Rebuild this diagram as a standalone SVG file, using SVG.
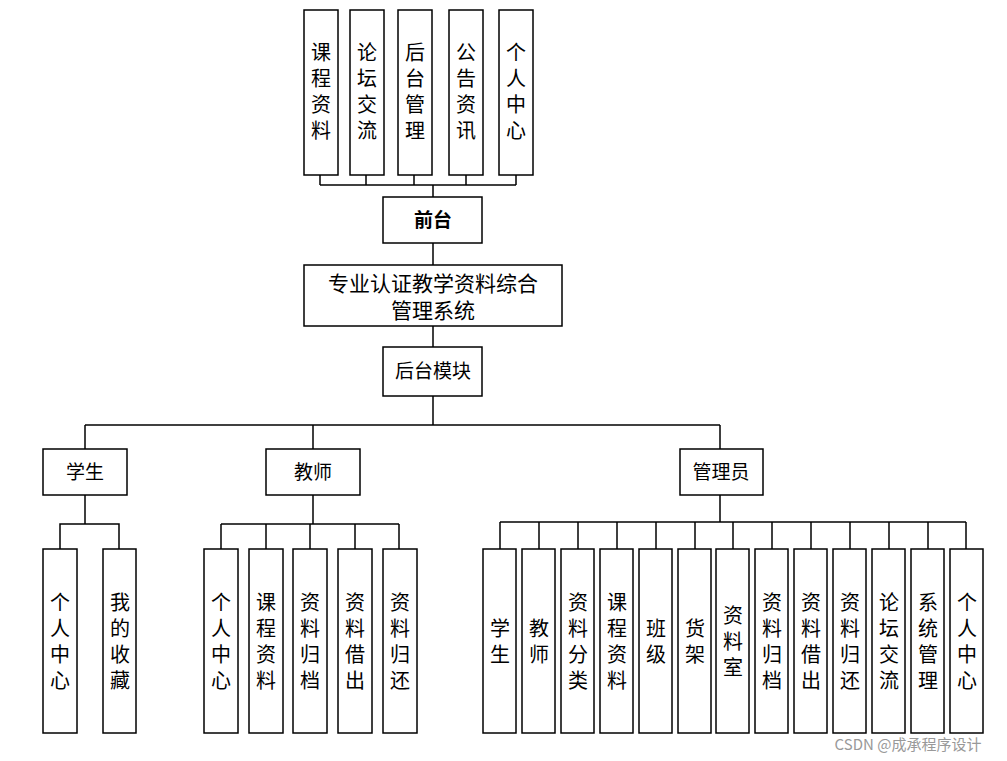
<svg xmlns="http://www.w3.org/2000/svg" width="1007" height="761" viewBox="0 0 1007 761">
<style>
rect{fill:#fff;stroke:#000;stroke-width:1.5}
line,polyline{stroke:#000;stroke-width:1.5;fill:none}
text{font-family:"Noto Sans CJK SC","Liberation Sans",sans-serif;font-size:19px;fill:#000;text-anchor:middle}
.v{font-size:20px}
</style>
<rect width="1007" height="761" style="fill:#fff;stroke:none"/>
<g id="connectors">
<line x1="320" y1="175" x2="320" y2="185"/><line x1="366" y1="175" x2="366" y2="185"/><line x1="414" y1="175" x2="414" y2="185"/><line x1="466" y1="175" x2="466" y2="185"/><line x1="516" y1="175" x2="516" y2="185"/>
<line x1="320" y1="185" x2="516" y2="185"/><line x1="433" y1="185" x2="433" y2="197"/>
<line x1="433" y1="243" x2="433" y2="265"/><line x1="433" y1="326" x2="433" y2="347"/>
<line x1="433" y1="396" x2="433" y2="425"/><line x1="85" y1="425" x2="720" y2="425"/>
<line x1="85" y1="425" x2="85" y2="449"/><line x1="313" y1="425" x2="313" y2="449"/><line x1="720" y1="425" x2="720" y2="449"/>
<line x1="85" y1="495" x2="85" y2="524"/><polyline points="60,549 60,524 119,524 119,549"/>
<line x1="313" y1="495" x2="313" y2="524"/><line x1="221" y1="524" x2="399" y2="524"/>
<line x1="221" y1="524" x2="221" y2="549"/><line x1="266" y1="524" x2="266" y2="549"/><line x1="310" y1="524" x2="310" y2="549"/><line x1="355" y1="524" x2="355" y2="549"/><line x1="399" y1="524" x2="399" y2="549"/>
<line x1="720" y1="495" x2="720" y2="522"/><line x1="500" y1="522" x2="966" y2="522"/>
<line x1="500" y1="522" x2="500" y2="549"/><line x1="539" y1="522" x2="539" y2="549"/><line x1="578" y1="522" x2="578" y2="549"/><line x1="617" y1="522" x2="617" y2="549"/><line x1="656" y1="522" x2="656" y2="549"/><line x1="695" y1="522" x2="695" y2="549"/><line x1="733" y1="522" x2="733" y2="549"/><line x1="772" y1="522" x2="772" y2="549"/><line x1="811" y1="522" x2="811" y2="549"/><line x1="850" y1="522" x2="850" y2="549"/><line x1="889" y1="522" x2="889" y2="549"/><line x1="928" y1="522" x2="928" y2="549"/><line x1="966" y1="522" x2="966" y2="549"/>
</g>
<g id="t1"><rect x="304" y="10" width="34" height="165"/><text class="v" x="321" y="60">课</text><text class="v" x="321" y="86">程</text><text class="v" x="321" y="112">资</text><text class="v" x="321" y="138">料</text></g>
<g id="t2"><rect x="350" y="10" width="34" height="165"/><text class="v" x="367" y="60">论</text><text class="v" x="367" y="86">坛</text><text class="v" x="367" y="112">交</text><text class="v" x="367" y="138">流</text></g>
<g id="t3"><rect x="398" y="10" width="34" height="165"/><text class="v" x="415" y="60">后</text><text class="v" x="415" y="86">台</text><text class="v" x="415" y="112">管</text><text class="v" x="415" y="138">理</text></g>
<g id="t4"><rect x="449" y="10" width="34" height="165"/><text class="v" x="466" y="60">公</text><text class="v" x="466" y="86">告</text><text class="v" x="466" y="112">资</text><text class="v" x="466" y="138">讯</text></g>
<g id="t5"><rect x="499" y="10" width="34" height="165"/><text class="v" x="516" y="60">个</text><text class="v" x="516" y="86">人</text><text class="v" x="516" y="112">中</text><text class="v" x="516" y="138">心</text></g>
<g id="qiantai"><rect x="383" y="197" width="99" height="46"/><text x="433" y="227" style="font-weight:bold">前台</text></g>
<g id="main"><rect x="304" y="265" width="258" height="61"/><text x="433" y="291" style="font-size:21px">专业认证教学资料综合</text><text x="433" y="318" style="font-size:21px">管理系统</text></g>
<g id="houtai"><rect x="383" y="347" width="99" height="49"/><text x="433" y="378">后台模块</text></g>
<g id="student"><rect x="43" y="449" width="84" height="46"/><text x="85" y="479">学生</text></g>
<g id="teacher"><rect x="266" y="449" width="94" height="46"/><text x="313" y="479">教师</text></g>
<g id="admin"><rect x="680" y="449" width="83" height="46"/><text x="721" y="479">管理员</text></g>
<g id="s1"><rect x="43" y="549" width="34" height="184"/><text class="v" x="60" y="610">个</text><text class="v" x="60" y="636">人</text><text class="v" x="60" y="662">中</text><text class="v" x="60" y="688">心</text></g>
<g id="s2"><rect x="103" y="549" width="33" height="184"/><text class="v" x="120" y="610">我</text><text class="v" x="120" y="636">的</text><text class="v" x="120" y="662">收</text><text class="v" x="120" y="688">藏</text></g>
<g id="te1"><rect x="204" y="549" width="34" height="184"/><text class="v" x="221" y="610">个</text><text class="v" x="221" y="636">人</text><text class="v" x="221" y="662">中</text><text class="v" x="221" y="688">心</text></g>
<g id="te2"><rect x="249" y="549" width="34" height="184"/><text class="v" x="266" y="610">课</text><text class="v" x="266" y="636">程</text><text class="v" x="266" y="662">资</text><text class="v" x="266" y="688">料</text></g>
<g id="te3"><rect x="293" y="549" width="34" height="184"/><text class="v" x="310" y="610">资</text><text class="v" x="310" y="636">料</text><text class="v" x="310" y="662">归</text><text class="v" x="310" y="688">档</text></g>
<g id="te4"><rect x="338" y="549" width="34" height="184"/><text class="v" x="355" y="610">资</text><text class="v" x="355" y="636">料</text><text class="v" x="355" y="662">借</text><text class="v" x="355" y="688">出</text></g>
<g id="te5"><rect x="383" y="549" width="34" height="184"/><text class="v" x="400" y="610">资</text><text class="v" x="400" y="636">料</text><text class="v" x="400" y="662">归</text><text class="v" x="400" y="688">还</text></g>
<g id="a1"><rect x="483" y="549" width="33" height="184"/><text class="v" x="500" y="636">学</text><text class="v" x="500" y="662">生</text></g>
<g id="a2"><rect x="522" y="549" width="33" height="184"/><text class="v" x="539" y="636">教</text><text class="v" x="539" y="662">师</text></g>
<g id="a3"><rect x="561" y="549" width="33" height="184"/><text class="v" x="578" y="610">资</text><text class="v" x="578" y="636">料</text><text class="v" x="578" y="662">分</text><text class="v" x="578" y="688">类</text></g>
<g id="a4"><rect x="600" y="549" width="33" height="184"/><text class="v" x="617" y="610">课</text><text class="v" x="617" y="636">程</text><text class="v" x="617" y="662">资</text><text class="v" x="617" y="688">料</text></g>
<g id="a5"><rect x="639" y="549" width="33" height="184"/><text class="v" x="656" y="636">班</text><text class="v" x="656" y="662">级</text></g>
<g id="a6"><rect x="678" y="549" width="33" height="184"/><text class="v" x="695" y="636">货</text><text class="v" x="695" y="662">架</text></g>
<g id="a7"><rect x="716" y="549" width="33" height="184"/><text class="v" x="733" y="623">资</text><text class="v" x="733" y="649">料</text><text class="v" x="733" y="675">室</text></g>
<g id="a8"><rect x="755" y="549" width="33" height="184"/><text class="v" x="772" y="610">资</text><text class="v" x="772" y="636">料</text><text class="v" x="772" y="662">归</text><text class="v" x="772" y="688">档</text></g>
<g id="a9"><rect x="794" y="549" width="33" height="184"/><text class="v" x="811" y="610">资</text><text class="v" x="811" y="636">料</text><text class="v" x="811" y="662">借</text><text class="v" x="811" y="688">出</text></g>
<g id="a10"><rect x="833" y="549" width="33" height="184"/><text class="v" x="850" y="610">资</text><text class="v" x="850" y="636">料</text><text class="v" x="850" y="662">归</text><text class="v" x="850" y="688">还</text></g>
<g id="a11"><rect x="872" y="549" width="33" height="184"/><text class="v" x="889" y="610">论</text><text class="v" x="889" y="636">坛</text><text class="v" x="889" y="662">交</text><text class="v" x="889" y="688">流</text></g>
<g id="a12"><rect x="911" y="549" width="33" height="184"/><text class="v" x="928" y="610">系</text><text class="v" x="928" y="636">统</text><text class="v" x="928" y="662">管</text><text class="v" x="928" y="688">理</text></g>
<g id="a13"><rect x="950" y="549" width="33" height="184"/><text class="v" x="967" y="610">个</text><text class="v" x="967" y="636">人</text><text class="v" x="967" y="662">中</text><text class="v" x="967" y="688">心</text></g>
<text x="908" y="750" style="font-size:15px;fill:#999">CSDN @成承程序设计</text>
</svg>
